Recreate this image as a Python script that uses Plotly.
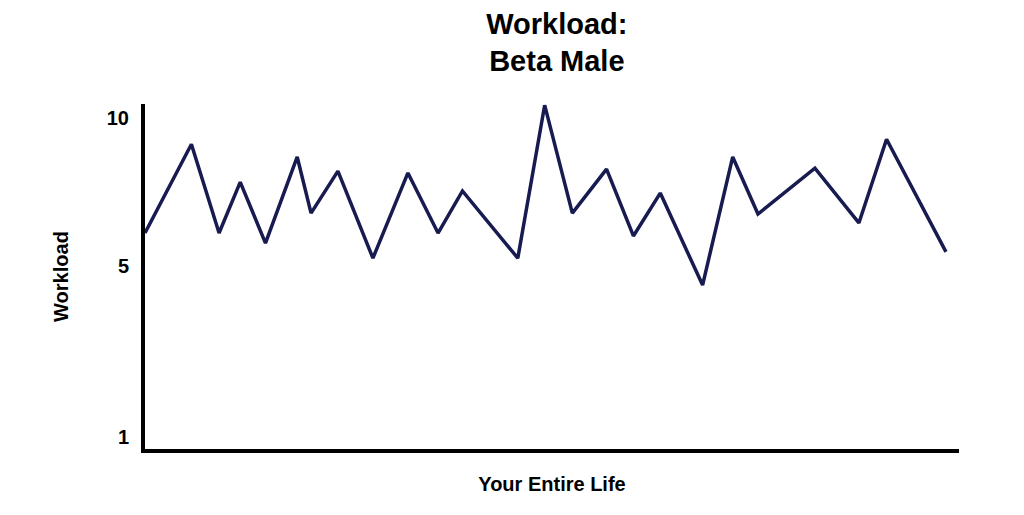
import plotly.graph_objects as go

# Workload over "your entire life"
life = [0, 5.7, 9.1, 11.7, 14.8, 18.7, 20.4, 23.7, 28.0, 32.3, 36.0, 39.0,
        45.8, 49.1, 52.5, 56.7, 60.0, 63.3, 68.5, 72.2, 75.3, 82.3, 87.7, 91.1, 98.4]
workload = [6.10, 9.10, 6.10, 7.82, 5.76, 8.67, 6.77, 8.19, 5.25, 8.13, 6.10, 7.52,
            5.25, 10.42, 6.77, 8.26, 6.00, 7.45, 4.34, 8.67, 6.74, 8.29, 6.44, 9.27, 5.46]

# the sketch's y labels are not evenly spaced
y_tick_pos = [10, 5, -0.8]
y_tick_text = ['10', '5', '1']

font_family = 'Liberation Sans, Arial, sans-serif'

fig = go.Figure()
fig.add_trace(go.Scatter(x=life, y=workload, mode='lines',
                         line=dict(color='#171b50', width=3.5),
                         cliponaxis=False, hoverinfo='skip'))

# page body adds an 8px offset, margins account for it
fig.update_layout(
    width=1024, height=515,
    paper_bgcolor='white', plot_bgcolor='white',
    showlegend=False,
    margin=dict(l=137, r=73, t=96, b=74),
    title=dict(text='<b>Workload:<br>Beta Male</b>', x=0.536, xanchor='center',
               y=0.95, yanchor='middle', yref='container',
               font=dict(family=font_family, size=29, color='black')),
    font=dict(family=font_family, color='black'),
)

fig.update_xaxes(range=[0, 100], showgrid=False, zeroline=False,
                 showticklabels=False, ticks='',
                 showline=True, linecolor='black', linewidth=4,
                 title=dict(text='<b>Your Entire Life</b>', standoff=26,
                            font=dict(size=20)))
fig.update_yaxes(range=[-1.2, 10.46], showgrid=False, zeroline=False,
                 tickvals=y_tick_pos, ticktext=['<b>%s</b>' % t for t in y_tick_text],
                 tickfont=dict(size=20), ticks='', ticklabelstandoff=8,
                 showline=True, linecolor='black', linewidth=4,
                 title=dict(text='<b>Workload</b>', standoff=34,
                            font=dict(size=20)))

fig.write_html('out.html')
